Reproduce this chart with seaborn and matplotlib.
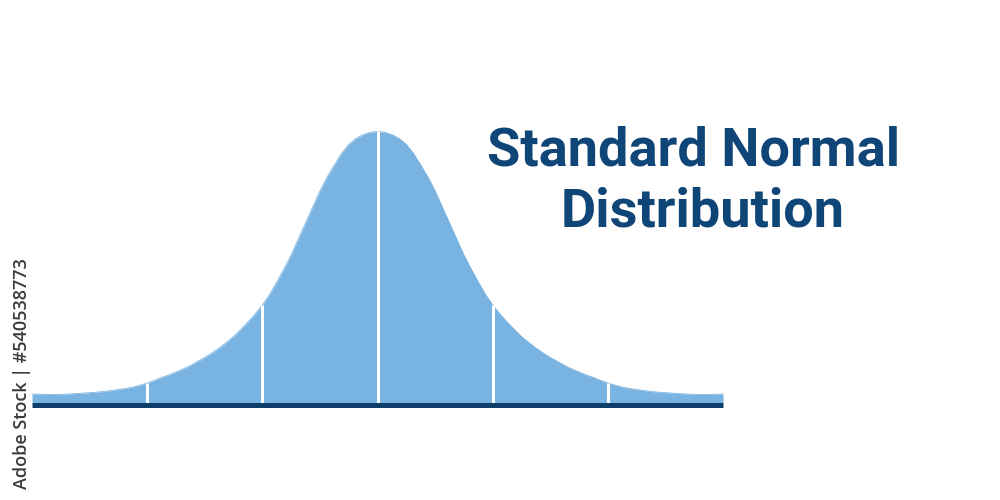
import matplotlib
matplotlib.use('Agg')
import matplotlib.pyplot as plt
import numpy as np
import seaborn as sns

# z positions (in standard deviations) where the curve height was read
z_scores = np.linspace(-3, 3, 97)
density = [0.0132, 0.0128, 0.0125, 0.0125, 0.0126, 0.0131, 0.0137, 0.0144, 0.0151,
           0.0159, 0.0169, 0.0182, 0.0198, 0.0213, 0.0232, 0.0262, 0.0294, 0.0331,
           0.0375, 0.0411, 0.0456, 0.0500, 0.0551, 0.0610, 0.0669, 0.0735, 0.0808,
           0.0889, 0.0977, 0.1080, 0.1190, 0.1308, 0.1440, 0.1595, 0.1778, 0.1969,
           0.2175, 0.2410, 0.2645, 0.2880, 0.3116, 0.3321, 0.3498, 0.3667, 0.3799,
           0.3887, 0.3943, 0.3978, 0.3990,
           0.3978, 0.3943, 0.3887, 0.3799, 0.3667, 0.3498, 0.3321, 0.3116, 0.2880,
           0.2645, 0.2410, 0.2175, 0.1969, 0.1778, 0.1595, 0.1440, 0.1308, 0.1190,
           0.1080, 0.0977, 0.0889, 0.0808, 0.0735, 0.0669, 0.0610, 0.0551, 0.0500,
           0.0456, 0.0411, 0.0375, 0.0331, 0.0294, 0.0262, 0.0232, 0.0213, 0.0198,
           0.0182, 0.0169, 0.0159, 0.0151, 0.0144, 0.0137, 0.0131, 0.0126, 0.0125,
           0.0125, 0.0128, 0.0132]
sigma_marks = [-2, -1, 0, 1, 2]
title_lines = ['Standard Normal', 'Distribution']
stamp = 'Adobe Stock | #540538773'

fill_col = '#79b3e1'
navy = '#0e3f6b'
title_col = '#0f4677'

sns.set_theme(style='white')
plt.rcParams['font.family'] = ['Roboto', 'DejaVu Sans']

fig = plt.figure(figsize=(10, 5), dpi=100)
ax = fig.add_axes([0, 0, 1, 1])

ax.fill_between(z_scores, 0, density, color=fill_col, linewidth=0)
sns.lineplot(x=z_scores, y=density, color=fill_col, linewidth=0.6, ax=ax)

tops = [density[int(np.argmin(np.abs(z_scores - s)))] for s in sigma_marks]
ax.vlines(sigma_marks, 0, tops, color='white', linewidth=2.2)

ax.hlines(-0.0037, z_scores[0], z_scores[-1], color=navy, linewidth=3.6)

ax.set_xlim(-3.278, 5.405)
ax.set_ylim(-0.1426, 0.5922)
ax.axis('off')

fig.text(0.694, 1 - 165 / 500, title_lines[0], ha='center', va='baseline',
         fontsize=39, fontweight='bold', color=title_col)
fig.text(0.703, 1 - 226.7 / 500, title_lines[1], ha='center', va='baseline',
         fontsize=39, fontweight='bold', color=title_col)

fig.text(0.022, 1 - 374 / 500, stamp, rotation=90, ha='center', va='center',
         fontsize=13, fontweight='semibold', color='#3a3a3a',
         family=['Open Sans', 'DejaVu Sans'])

fig.savefig('out.png', dpi=100)
